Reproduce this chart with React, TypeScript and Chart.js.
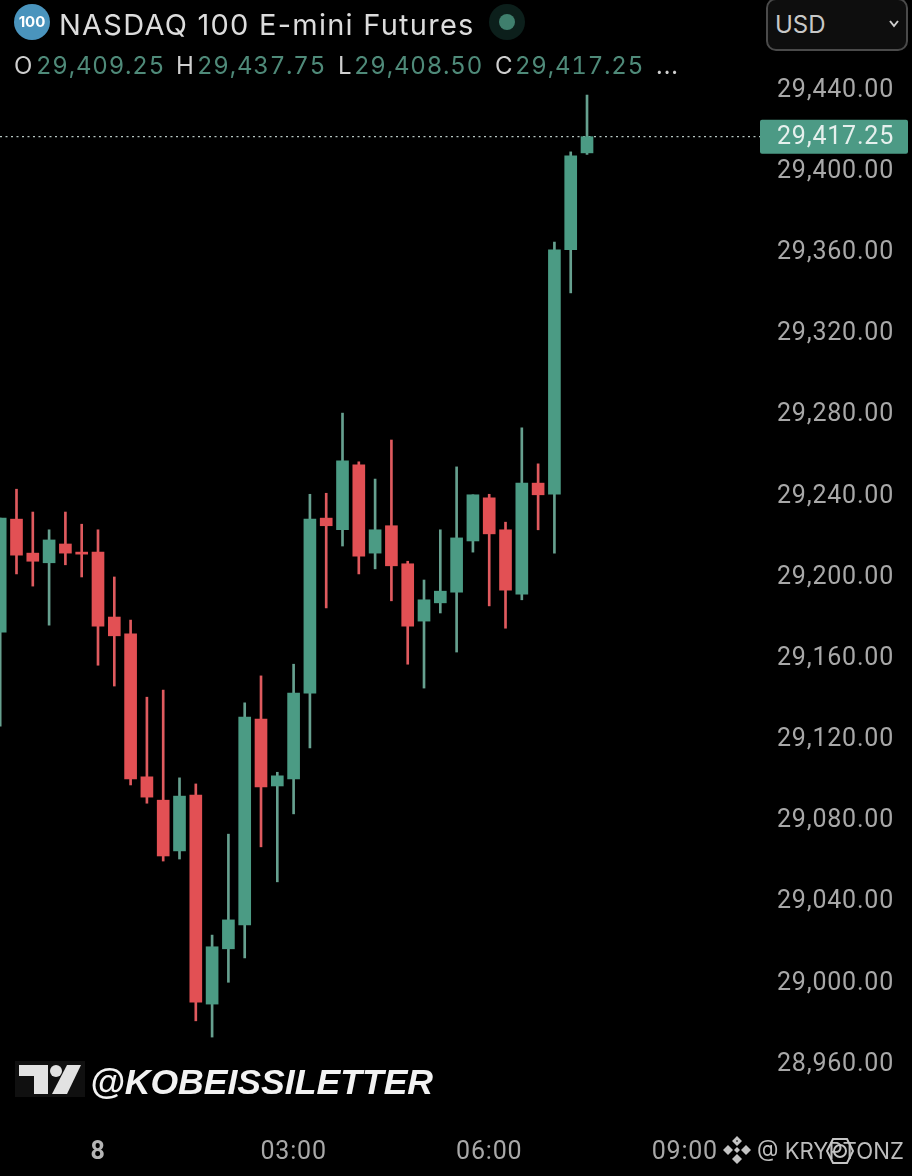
import React, { useEffect, useRef } from "react";
import { Chart, registerables } from "chart.js";

Chart.register(...registerables);

const hours = [
  -1.5, -1.25, -1, -0.75, -0.5, -0.25, 0, 0.25, 0.5, 0.75, 1, 1.25, 1.5, 1.75, 2, 2.25, 2.5, 2.75, 3,
  3.25, 3.5, 3.75, 4, 4.25, 4.5, 4.75, 5, 5.25, 5.5, 5.75, 6, 6.25, 6.5, 6.75, 7, 7.25, 7.5,
];
const opens = [
  29173, 29228.75, 29212, 29207.25, 29216.5, 29212.5, 29212.5, 29180.5, 29172.25, 29101.75, 29090.25, 29065.25,
  29092.75, 28989.75, 29017, 29028.75, 29130.25, 29097.25, 29100.75, 29143, 29229.25, 29223.5, 29255.5, 29212,
  29225.5, 29206.75, 29178.5, 29187.5, 29192.75, 29218, 29239.25, 29223.5, 29191.75, 29246.5, 29241, 29361.5, 29409.25,
];
const highs = [
  29229.25, 29243.5, 29232.25, 29223.5, 29232.25, 29226.25, 29223.5, 29200.25, 29179, 29141, 29144.5, 29101.25,
  29098.25, 29023.75, 29073.5, 29138.25, 29151.5, 29104, 29157.25, 29241, 29241.5, 29281, 29257, 29248.5,
  29267.75, 29208, 29198.75, 29223.5, 29254.5, 29240.75, 29241, 29227.25, 29273.75, 29256, 29365.25, 29409.75, 29437.75,
];
const lows = [
  29126.75, 29201.75, 29195.75, 29176.5, 29206.25, 29200.25, 29156.75, 29146.5, 29097.75, 29088.75, 29060.25, 29061.25,
  28981.5, 28973.5, 29000.5, 29012.5, 29067.25, 29050, 29083.5, 29116, 29185, 29215.5, 29201.75, 29204.25,
  29188.5, 29157.25, 29145.5, 29182.5, 29163.25, 29212.5, 29186, 29175, 29189, 29223.5, 29212, 29340.25, 29408.5,
];
const closes = [
  29229.25, 29211, 29208, 29218.5, 29212, 29211.5, 29176, 29171.25, 29100.75, 29091.75, 29062.75, 29092.25,
  28990.75, 29018, 29031.25, 29131.25, 29096.75, 29102.25, 29143, 29228.75, 29225.5, 29257.5, 29210.5, 29223.5,
  29205.75, 29176, 29189, 29193.25, 29219.5, 29240.75, 29221.5, 29193.75, 29246.5, 29240.75, 29361.5, 29407.75, 29417.25,
];
const timeLabels: Record<number, string> = { 0: "8", 3: "03:00", 6: "06:00", 9: "09:00" };
const legendRow = [
  { key: "O", value: "29,409.25", keyX: 14, valueX: 36 },
  { key: "H", value: "29,437.75", keyX: 176, valueX: 197 },
  { key: "L", value: "29,408.50", keyX: 338, valueX: 354 },
  { key: "C", value: "29,417.25", keyX: 495, valueX: 515 },
];
const lastPrice = 29417.25;
const title = "NASDAQ 100 E-mini Futures";

const UP = "#4b9b84";
const DOWN = "#e25054";
const UP_WICK = "#66a08f";
const DOWN_WICK = "#df5a5e";
const FONT = "Inter, 'Noto Sans', sans-serif";
const AXIS_FONT = "Roboto, 'Noto Sans', sans-serif";
const X_MIN = -1.503;
const X_MAX = 10.153;
const Y_MIN = 28927.7;
const Y_MAX = 29450.1;

const text = (x: number, y: number, s: string, style: React.CSSProperties) => (
  <div
    style={{
      position: "absolute",
      left: x,
      top: y,
      transform: "translateY(-50%)",
      whiteSpace: "nowrap",
      fontFamily: FONT,
      lineHeight: 1,
      ...style,
    }}
  >
    {s}
  </div>
);

const lastPricePlugin = {
  id: "lastPrice",
  beforeDraw(chart: any) {
    chart.ctx.letterSpacing = "0.8px";
  },
  afterDatasetsDraw(chart: any) {
    const { ctx } = chart;
    const y = chart.scales.y.getPixelForValue(lastPrice);
    const right = chart.chartArea.right;
    ctx.save();
    ctx.fillStyle = "#4c9a85";
    ctx.beginPath();
    ctx.roundRect(right, y - 17, 148, 34, 2);
    ctx.fill();
    ctx.fillStyle = "#e6f0ed";
    ctx.font = `25px ${AXIS_FONT}`;
    ctx.textBaseline = "middle";
    ctx.textAlign = "left";
    ctx.fillText(lastPrice.toLocaleString("en-US", { minimumFractionDigits: 2 }), right + 17, y + 1);
    ctx.restore();
  },
};

export default function App() {
  const ref = useRef<HTMLCanvasElement>(null);

  useEffect(() => {
    document.body.style.margin = "0";
    document.body.style.background = "#000";
    const colors = closes.map((c, i) => (c >= opens[i] ? UP : DOWN));
    const wickColors = closes.map((c, i) => (c >= opens[i] ? UP_WICK : DOWN_WICK));
    const chart = new Chart(ref.current as HTMLCanvasElement, {
      type: "bar",
      plugins: [lastPricePlugin],
      data: {
        datasets: [
          {
            type: "bar",
            label: "body",
            data: hours.map((h, i) => ({ x: h, y: [opens[i], closes[i]] })),
            backgroundColor: colors,
            barThickness: 12,
            grouped: false,
            order: 1,
          },
          {
            type: "bar",
            label: "wick",
            data: hours.map((h, i) => ({ x: h, y: [lows[i], highs[i]] })),
            backgroundColor: wickColors,
            barThickness: 2,
            grouped: false,
            order: 2,
          },
          {
            type: "line",
            label: "last",
            data: [
              { x: X_MIN, y: lastPrice },
              { x: X_MAX, y: lastPrice },
            ],
            borderColor: "#b8c8c3",
            borderWidth: 1.2,
            borderDash: [2, 3.5],
            pointRadius: 0,
            order: 3,
          },
        ],
      } as any,
      options: {
        responsive: false,
        animation: false,
        layout: { padding: { top: 70, left: 0, right: 0, bottom: 0 } },
        plugins: { legend: { display: false }, tooltip: { enabled: false }, title: { display: false } },
        scales: {
          x: {
            type: "linear",
            min: X_MIN,
            max: X_MAX,
            offset: false,
            grid: { display: false, drawTicks: false },
            border: { display: false },
            afterFit: (s: any) => {
              s.height = 46;
            },
            ticks: {
              stepSize: 3,
              includeBounds: false,
              autoSkip: false,
              maxRotation: 0,
              padding: 8,
              color: (c: any) => (c.tick?.value === 0 ? "#b5b5b5" : "#a8a8a8"),
              font: (c: any) => ({ family: AXIS_FONT, size: 25, weight: c.tick?.value === 0 ? "bold" : "normal" }),
              callback: (v: any) => timeLabels[v] ?? "",
            },
          },
          y: {
            position: "right",
            min: Y_MIN,
            max: Y_MAX,
            grid: { display: false, drawTicks: false },
            border: { display: false },
            afterFit: (s: any) => {
              s.width = 152;
            },
            ticks: {
              stepSize: 40,
              includeBounds: false,
              padding: 17,
              color: "#a8a8a8",
              font: { family: AXIS_FONT, size: 25 },
              callback: (v: any) => Number(v).toLocaleString("en-US", { minimumFractionDigits: 2 }),
            },
          },
        },
      } as any,
    });
    return () => chart.destroy();
  }, []);

  return (
    <div style={{ position: "absolute", left: 0, top: 0, width: 912, height: 1176, background: "#000", overflow: "hidden" }}>
      <canvas ref={ref} width={912} height={1176} style={{ position: "absolute", left: 0, top: 0, display: "block" }} />

      {/* badge */}
      <div
        style={{
          position: "absolute", left: 14, top: 4, width: 36, height: 36, borderRadius: 18, background: "#4a94bd",
          color: "#fff", fontFamily: FONT, fontWeight: 700, fontSize: 15, lineHeight: "36px", textAlign: "center",
        }}
      >
        100
      </div>
      {text(59, 24, title, { color: "#dcdcdc", fontSize: 29, letterSpacing: 1.25 })}
      {/* market status */}
      <div style={{ position: "absolute", left: 489, top: 4, width: 36, height: 36, borderRadius: 18, background: "#0c1f1b" }} />
      <div style={{ position: "absolute", left: 499, top: 14, width: 16, height: 16, borderRadius: 8, background: "#3f7f6d" }} />

      {/* currency box */}
      <div
        style={{
          position: "absolute", left: 766, top: -2, width: 138, height: 49, border: "2px solid #4a4a4a",
          borderRadius: 10, background: "#0e0e0e",
        }}
      />
      {text(775, 25, "USD", { color: "#c8c8c8", fontSize: 24 })}
      <svg style={{ position: "absolute", left: 888, top: 19, width: 12, height: 10 }} viewBox="0 0 12 10">
        <path d="M2 2 L6 7 L10 2" fill="none" stroke="#cfcfcf" strokeWidth="2" />
      </svg>

      {/* OHLC row */}
      {legendRow.map((r) => (
        <React.Fragment key={r.key}>
          {text(r.keyX, 66, r.key, { color: "#cfcfcf", fontSize: 24 })}
          {text(r.valueX, 66, r.value, { color: "#4f8a79", fontSize: 24, letterSpacing: 0.8, fontVariantNumeric: "tabular-nums" })}
        </React.Fragment>
      ))}
      {text(656, 66, "...", { color: "#cfcfcf", fontSize: 22, fontWeight: 500, letterSpacing: 1 })}

      {/* TradingView mark */}
      <svg style={{ position: "absolute", left: 15, top: 1061, width: 70, height: 36 }} viewBox="0 0 70 36">
        <rect width="70" height="36" fill="#101010" />
        <path d="M4 4 H33 V33 H19 V15 H4 Z" fill="#e2e2e2" />
        <circle cx="41" cy="10" r="6" fill="#e2e2e2" />
        <path d="M52 4 H66 L52 33 H37 Z" fill="#e2e2e2" />
      </svg>
      {text(90, 1083, "@KOBEISSILETTER", {
        color: "#f2f2f2", fontSize: 35.6, fontWeight: 700, fontStyle: "italic", fontFamily: "'Liberation Sans', sans-serif",
      })}

      {/* overlay watermark */}
      <svg style={{ position: "absolute", left: 722, top: 1135, width: 30, height: 30 }} viewBox="0 0 30 30">
        <g fill="#c4c4c4">
          <path d="M15 1 L20 6 L15 11 L10 6 Z M15 5 L14 6 L15 7 L16 6 Z" fillRule="evenodd" />
          <path d="M6 10 L11 15 L6 20 L1 15 Z" />
          <path d="M24 10 L29 15 L24 20 L19 15 Z" />
          <path d="M15 19 L20 24 L15 29 L10 24 Z" />
          <path d="M15 12 L18 15 L15 18 L12 15 Z" />
        </g>
      </svg>
      {text(757, 1151, "@ KRYPTONZ", { color: "#bdbdbd", fontSize: 22.2 })}
      <svg style={{ position: "absolute", left: 825, top: 1137, width: 30, height: 28 }} viewBox="0 0 30 28">
        <path d="M8 2 H22 L28 14 L22 26 H8 L2 14 Z" fill="none" stroke="#c4c4c4" strokeWidth="2" />
        <circle cx="15" cy="14" r="6" fill="none" stroke="#c4c4c4" strokeWidth="2" />
      </svg>
    </div>
  );
}
